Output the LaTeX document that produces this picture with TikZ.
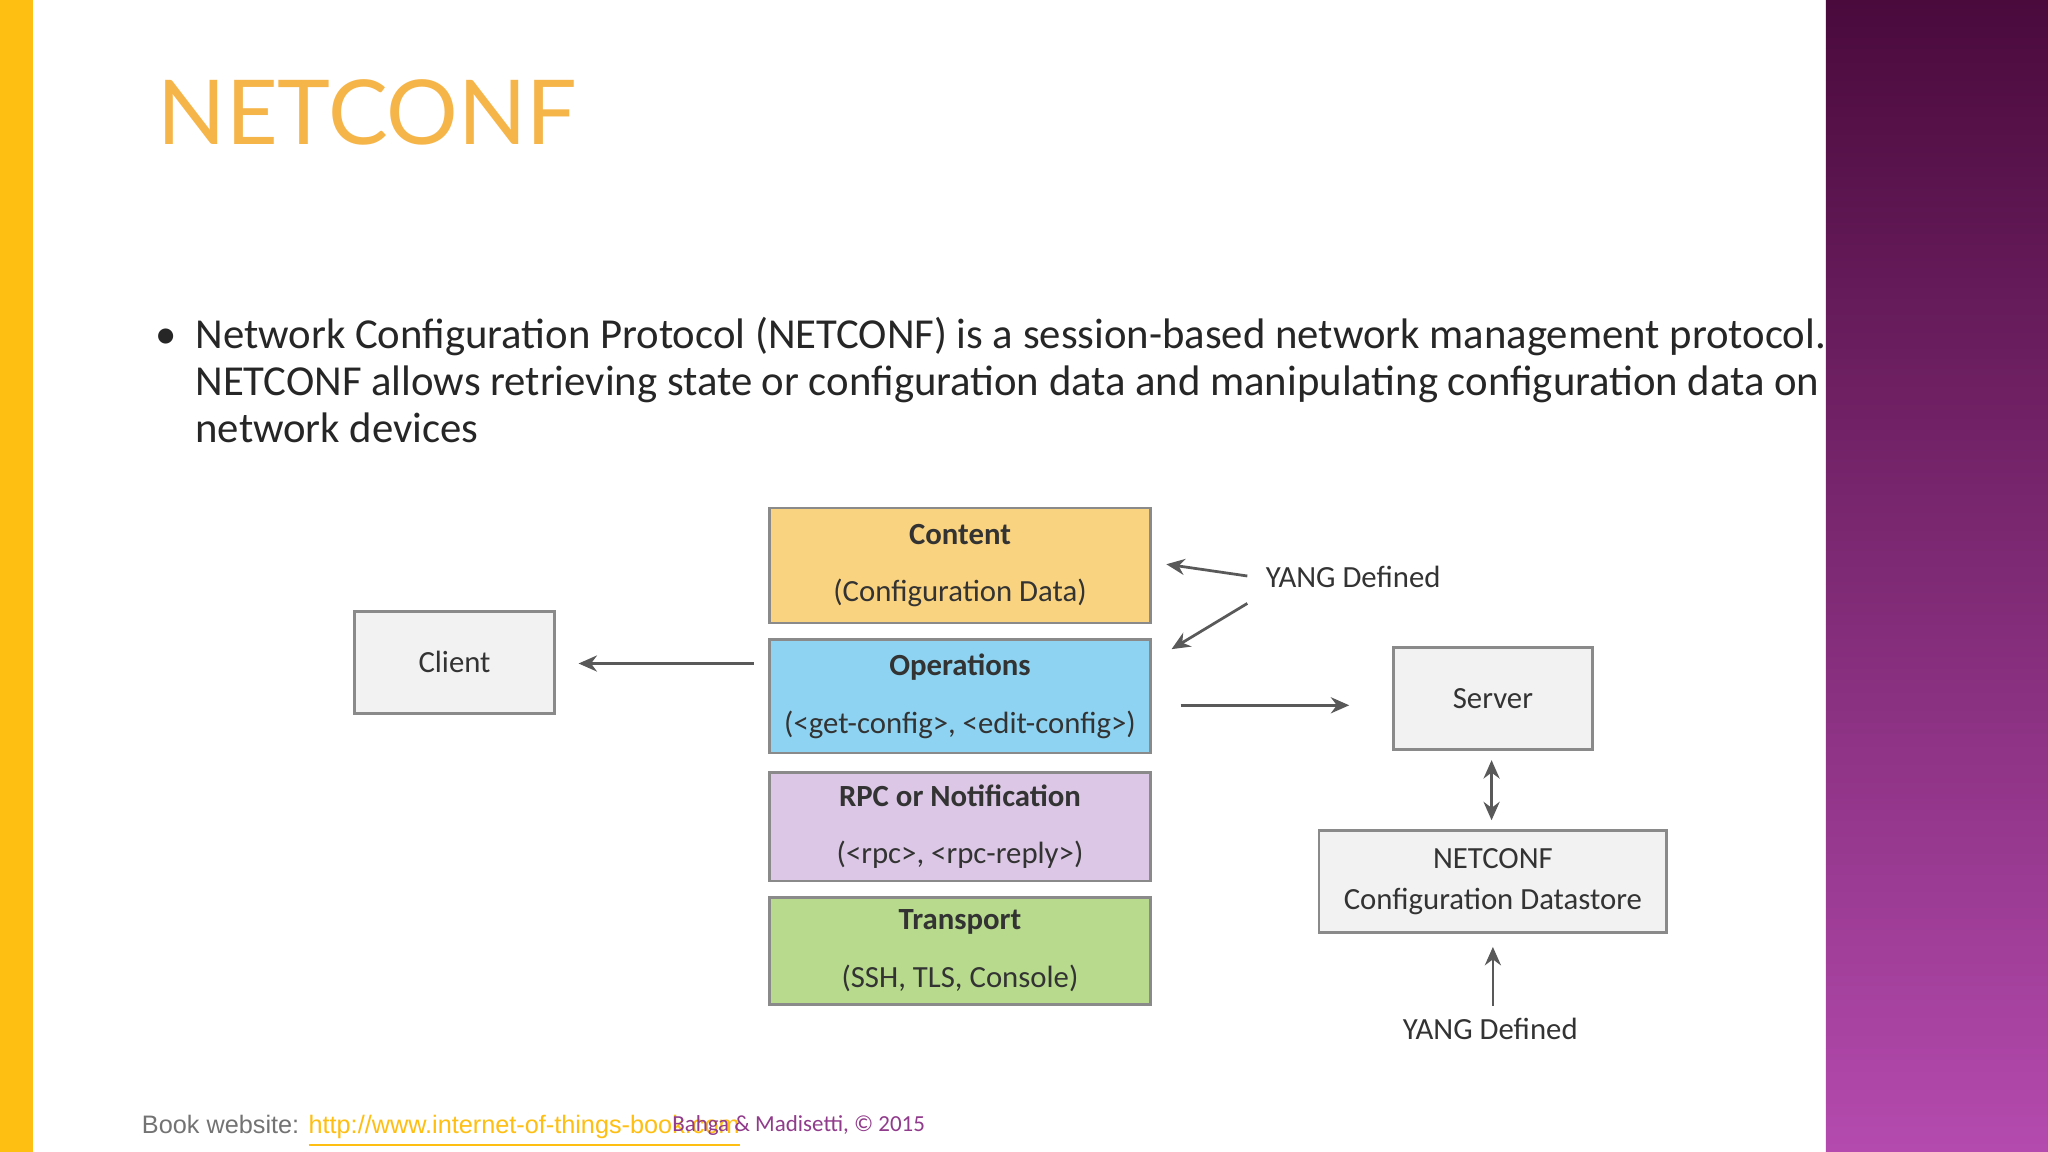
\documentclass[tikz,border=0pt]{standalone}
\usepackage{fontspec}
\setmainfont{Carlito}
\newfontfamily\titlefont{Lato}
\newfontfamily\footfont{Liberation Sans}
\usetikzlibrary{arrows.meta}
\definecolor{barY}{HTML}{FFBE12}
\definecolor{purTop}{HTML}{4A0A3C}
\definecolor{purBot}{HTML}{B44AAE}
\definecolor{ttl}{HTML}{F6B548}
\definecolor{cContent}{HTML}{F9D37F}
\definecolor{cOps}{HTML}{8ED4F2}
\definecolor{cRpc}{HTML}{DCC8E6}
\definecolor{cTrans}{HTML}{B7DA8C}
\definecolor{bord}{HTML}{8A8A8A}
\definecolor{txt}{HTML}{333333}
\tikzset{
  layer/.style={draw=bord, line width=0.6pt, minimum width=2.92cm, inner sep=0pt, align=center, text=txt,
    font=\fontsize{6.7}{12.5}\selectfont},
  gbox/.style={draw=bord, line width=0.6pt, fill=black!5, inner sep=0pt, align=center, text=txt,
    font=\fontsize{6.7}{9}\selectfont},
  lbl/.style={text=txt, font=\fontsize{6.7}{8}\selectfont},
  arr/.style={-{Stealth[length=4pt,width=3.5pt]}, line width=0.6pt, draw=black!65},
  bul/.style={anchor=base west, inner sep=0pt, font=\fontsize{9.3}{10}\selectfont, text=black!85},
}
\begin{document}
\begin{tikzpicture}[x=0.01cm,y=-0.01cm]
\useasboundingbox (0,0) rectangle (1568,882);
\fill[white] (0,0) rectangle (1568,882);
\fill[barY] (0,0) rectangle (25,882);
% title
\node[anchor=west, inner sep=0pt, text=ttl, font=\titlefont\fontsize{19.5}{20}\selectfont] (title) at (120,86) {NETCONF};
% bullet
\node[bul] (dot) at (118,267) {•};
\node[bul] (l1) at (149,267) {Network Configuration Protocol (NETCONF) is a session-based network management protocol.};
\node[bul] (l2) at (149,303) {NETCONF allows retrieving state or configuration data and manipulating configuration data on};
\node[bul] (l3) at (149,339) {network devices};
% right purple band
\shade[top color=purTop, bottom color=purBot] (1398,0) rectangle (1568,882);
% layers
\node[layer, fill=cContent, minimum height=0.88cm] (content) at (735,433) {\textbf{Content}\\(Configuration Data)};
\node[layer, fill=cOps, minimum height=0.87cm] (ops) at (735,533) {\textbf{Operations}\\(<get-config>, <edit-config>)};
\node[layer, fill=cRpc, minimum height=0.83cm] (rpc) at (735,633) {\textbf{RPC or Notification}\\(<rpc>, <rpc-reply>)};
\node[layer, fill=cTrans, minimum height=0.82cm] (trans) at (735,728) {\textbf{Transport}\\(SSH, TLS, Console)};
\node[gbox, minimum width=1.53cm, minimum height=0.78cm] (client) at (348,507) {Client};
\node[gbox, minimum width=1.52cm, minimum height=0.78cm] (server) at (1143,535) {Server};
\node[gbox, minimum width=2.66cm, minimum height=0.78cm] (store) at (1143,675) {NETCONF\\Configuration Datastore};
\node[lbl] (yang1) at (1036,442) {YANG Defined};
\node[lbl] (yang2) at (1141,788) {YANG Defined};
% arrows
\coordinate (y1a) at (955,441); \coordinate (y1b) at (893,432);
\coordinate (y2a) at (955,462); \coordinate (y2b) at (897,497);
\coordinate (ca) at (577,508); \coordinate (cb) at (443,508);
\coordinate (sa) at (904,540); \coordinate (sb) at (1033,540);
\coordinate (da) at (1142,582); \coordinate (db) at (1142,628);
\coordinate (ya) at (1143,770); \coordinate (yb) at (1143,725);
\draw[arr] (y1a) -- (y1b);
\draw[arr] (y2a) -- (y2b);
\draw[arr] (ca) -- (cb);
\draw[arr] (sa) -- (sb);
\draw[arr, {Stealth[length=4pt,width=3.5pt]}-{Stealth[length=4pt,width=3.5pt]}] (da) -- (db);
\draw[arr] (ya) -- (yb);
% footer
\node[anchor=base west, inner sep=0pt, text=black!55, font=\footfont\fontsize{5.5}{6}\selectfont] (book) at (108,868)
  {Book website: \textcolor{barY}{\underline{http://www.internet-of-things-book.com}}};
\node[anchor=base west, inner sep=0pt, text=purBot!80!black, font=\fontsize{5}{6}\selectfont] (cred) at (514,866)
  {Bahga \& Madisetti, © 2015};
\end{tikzpicture}
\end{document}
